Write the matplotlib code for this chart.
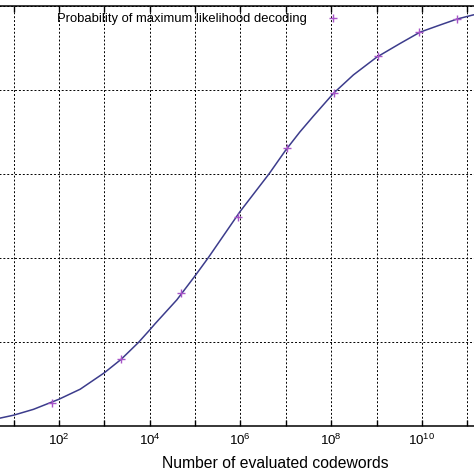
import math
import matplotlib
matplotlib.use("Agg")
import matplotlib.pyplot as plt
from matplotlib.ticker import FixedLocator, FuncFormatter, NullLocator
from matplotlib.lines import Line2D

plt.rcParams['font.family'] = ['Liberation Sans', 'DejaVu Sans']
plt.rcParams['mathtext.fontset'] = 'custom'
plt.rcParams['mathtext.rm'] = 'Liberation Sans'

# --- data (log10 of number of evaluated codewords, probability) ---
marker_exp = [1.84, 3.37, 4.69, 5.95, 7.03, 8.07, 9.03, 9.94, 10.77]
marker_prob = [0.054, 0.159, 0.316, 0.497, 0.662, 0.792, 0.881, 0.938, 0.969]

curve_exp = [0.5, 0.70, 1.0, 1.44, 2.0, 2.47, 3.0, 3.37, 3.75, 4.0, 4.12, 4.6,
             5.0, 5.29, 5.99, 6.63, 7.0, 7.31, 7.61, 8.05, 8.49, 9.0, 9.52,
             9.96, 10.40, 10.77, 11.13, 11.5]
curve_prob = [0.014, 0.018, 0.025, 0.039, 0.063, 0.087, 0.126, 0.158, 0.198,
              0.228, 0.243, 0.300, 0.357, 0.400, 0.510, 0.600, 0.657, 0.700,
              0.738, 0.792, 0.836, 0.878, 0.911, 0.938, 0.955, 0.969, 0.979,
              0.984]

decade_exps = list(range(0, 13))
labelled_exps = [2, 4, 6, 8, 10]
legend_label = "Probability of maximum likelihood decoding"
x_label = "Number of evaluated codewords"

marker_x = [10 ** e for e in marker_exp]
curve_x = [10 ** e for e in curve_exp]

W = H = 474
fig = plt.figure(figsize=(4.74, 4.74), dpi=100)
# axes extends past the left/right edges (cropped figure)
px_per_dec = 45.38
x0_px = 13.5 - px_per_dec  # pixel of 10^0
left = x0_px / W
width = 12 * px_per_dec / W
top_px, bot_px = 6.1, 425.7
ax = fig.add_axes([left, (H - bot_px) / H, width, (bot_px - top_px) / H])
ax.set_xscale('log')
ax.set_xlim(1, 1e12)
ax.set_ylim(0, 1)

ax.plot(curve_x, curve_prob, color='#3c3c8c', lw=1.1, zorder=3,
        solid_joinstyle='round')
ax.plot(marker_x, marker_prob, linestyle='none', marker='+', ms=6, mew=1.0,
        color='#a855c8', zorder=4)


def fmt(v, p):
    e = round(math.log10(v))
    return r'$\mathregular{10^{%d}}$' % e if e in labelled_exps else ''


ax.xaxis.set_major_locator(FixedLocator([10 ** e for e in decade_exps]))
ax.xaxis.set_minor_locator(NullLocator())
ax.xaxis.set_major_formatter(FuncFormatter(fmt))
ax.yaxis.set_major_locator(FixedLocator([0, 0.2, 0.4, 0.6, 0.8, 1.0]))
ax.yaxis.set_minor_locator(NullLocator())
ax.yaxis.set_major_formatter(FuncFormatter(lambda v, p: ''))

ax.tick_params(axis='both', direction='in', length=4, width=1.0, top=True,
               right=True, labelsize=9.6, pad=5, colors='black')
ax.grid(True, which='major', color='black', linestyle=(0, (2, 2)), linewidth=0.7)
for s in ax.spines.values():
    s.set_linewidth(1.1)

ax.set_xlabel(x_label, fontsize=11.3)
xl_center = (275.5 - x0_px) / (12 * px_per_dec)
ax.xaxis.set_label_coords(xl_center, (bot_px - 463) / (bot_px - top_px))
ax.xaxis.label.set_va('center')

handle = Line2D([], [], linestyle='none', marker='+', ms=6, mew=1.0, color='#a855c8')
ax.legend([handle], [legend_label], loc='center left',
          bbox_to_anchor=(56.7 / W, 1 - 19 / H), bbox_transform=fig.transFigure,
          frameon=False, markerfirst=False, fontsize=9.4, borderpad=0,
          borderaxespad=0, handlelength=1.5, handletextpad=1.3)

fig.savefig('out.png', dpi=100)
